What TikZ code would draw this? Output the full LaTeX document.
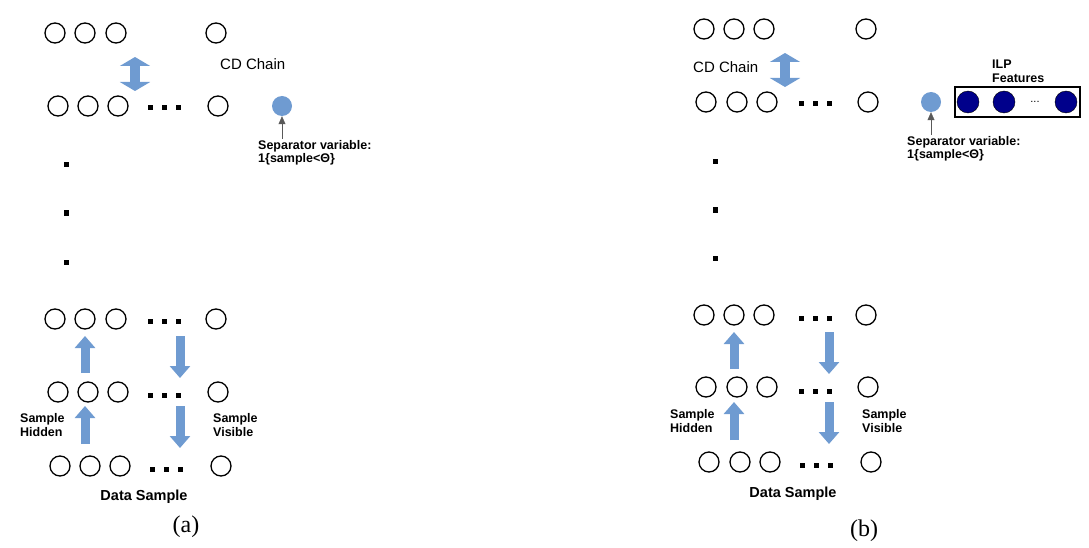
\documentclass[tikz,border=0pt]{standalone}
\usepackage{fontspec}
\setmainfont{Liberation Sans}
\newfontfamily\seriffont{Liberation Serif}
\usetikzlibrary{arrows.meta}
\definecolor{lblue}{HTML}{6F9BD1}
\definecolor{dblue}{HTML}{00008B}
\tikzset{
 unit/.style={circle,draw,line width=1.3pt,minimum size=20pt,inner sep=0pt},
 sep/.style={circle,fill=lblue,minimum size=20pt,inner sep=0pt},
 ilp/.style={circle,fill=dblue,draw=black,minimum size=22pt,inner sep=0pt},
 fat/.style={lblue,line width=9pt,-{Triangle[width=20pt,length=12pt]}},
 dfat/.style={lblue,line width=10pt,{Triangle[width=30pt,length=9pt]}-{Triangle[width=30pt,length=9pt]}},
 lbl/.style={font=\bfseries\fontsize{12.5}{13.5}\selectfont,align=left,inner sep=0pt},
 cd/.style={font=\fontsize{15}{16}\selectfont,inner sep=0pt},
 sq/.style={fill=black}
}
\newcommand{\sqdots}[2]{\foreach \dx in {0,14,28}{\fill ({#1+\dx-2.5},{#2-2.5}) rectangle ++(5,5);}}
\begin{document}
\begin{tikzpicture}[x=1pt,y=-1pt]
\useasboundingbox (0,0) rectangle (1089,548);
% ===== panel a
\foreach \n/\x in {1/55,2/85,3/116,4/216}{\node[unit] (a1\n) at (\x,33) {};}
\foreach \n/\x in {1/58,2/88,3/118,4/218}{\node[unit] (a2\n) at (\x,106) {};}
\sqdots{150}{108}
\node[sep] (as) at (282,106) {};
\node[lbl,anchor=north west] (asl) at (258,140) {Separator variable:\\1\{sample<Θ\}};
\draw[-{Triangle[width=7pt,length=8pt]},gray!70!black] (282,139) -- (as.south);
\node[cd,anchor=west] (acd) at (220,64) {CD Chain};
\coordinate (ad1) at (135,57); \coordinate (ad2) at (135,91);
\draw[dfat] (ad1) -- (ad2);
\foreach \y in {165,213,262}{\fill (63.5,\y-2.5) rectangle ++(5,5);}
\foreach \n/\x in {1/55,2/85,3/116,4/216}{\node[unit] (a3\n) at (\x,319) {};}
\sqdots{150}{321}
\foreach \n/\x in {1/58,2/88,3/118,4/218}{\node[unit] (a4\n) at (\x,392) {};}
\sqdots{150}{395}
\foreach \n/\x in {1/60,2/90,3/120,4/221}{\node[unit] (a5\n) at (\x,466) {};}
\sqdots{152}{469}
\draw[fat] (85,373) -- (85,336);
\draw[fat] (180,336) -- (180,378);
\draw[fat] (85,444) -- (85,406);
\draw[fat] (180,406) -- (180,448);
\node[lbl,anchor=west] (ash) at (20,425) {Sample\\Hidden};
\node[lbl,anchor=west] (asv) at (213,425) {Sample\\Visible};
\node[lbl,font=\bfseries\fontsize{14.5}{15}\selectfont] (ads) at (144,497) {Data Sample};
\node[font=\seriffont\fontsize{24}{26}\selectfont] (acap) at (186,527) {(a)};
% ===== panel b
\foreach \n/\x in {1/704,2/734,3/764,4/866}{\node[unit] (b1\n) at (\x,29) {};}
\foreach \n/\x in {1/706,2/737,3/767,4/868}{\node[unit] (b2\n) at (\x,102) {};}
\sqdots{801}{104}
\node[sep] (bs) at (931,102) {};
\node[lbl,anchor=north west] (bsl) at (907,136) {Separator variable:\\1\{sample<Θ\}};
\draw[-{Triangle[width=7pt,length=8pt]},gray!70!black] (931,135) -- (bs.south);
\node[cd,anchor=west] (bcd) at (693,67) {CD Chain};
\coordinate (bd1) at (785,53); \coordinate (bd2) at (785,87);
\draw[dfat] (bd1) -- (bd2);
\node[draw,line width=1.3pt,minimum width=125pt,minimum height=30pt,inner sep=0pt] (box) at (1017.5,102) {};
\node[lbl,anchor=north west] (ilpl) at (992,60) {ILP\\Features};
\node[ilp] (f1) at (968,102) {};
\node[ilp] (f2) at (1004,102) {};
\node[ilp] (f3) at (1066,102) {};
\node[font=\fontsize{11}{12}\selectfont] (fd) at (1035,102) {...};
\foreach \y in {162,210,258}{\fill (712.5,\y-2.5) rectangle ++(5,5);}
\foreach \n/\x in {1/704,2/734,3/764,4/866}{\node[unit] (b3\n) at (\x,315) {};}
\sqdots{801}{318}
\foreach \n/\x in {1/706,2/737,3/767,4/868}{\node[unit] (b4\n) at (\x,387) {};}
\sqdots{801}{391}
\foreach \n/\x in {1/709,2/740,3/770,4/871}{\node[unit] (b5\n) at (\x,462) {};}
\sqdots{802}{465}
\draw[fat] (734,369) -- (734,332);
\draw[fat] (829,332) -- (829,374);
\draw[fat] (734,440) -- (734,402);
\draw[fat] (829,402) -- (829,444);
\node[lbl,anchor=west] (bsh) at (670,421) {Sample\\Hidden};
\node[lbl,anchor=west] (bsv) at (862,421) {Sample\\Visible};
\node[lbl,font=\bfseries\fontsize{14.5}{15}\selectfont] (bds) at (793,494) {Data Sample};
\node[font=\seriffont\fontsize{24}{26}\selectfont] (bcap) at (864,531) {(b)};
\end{tikzpicture}
\end{document}
